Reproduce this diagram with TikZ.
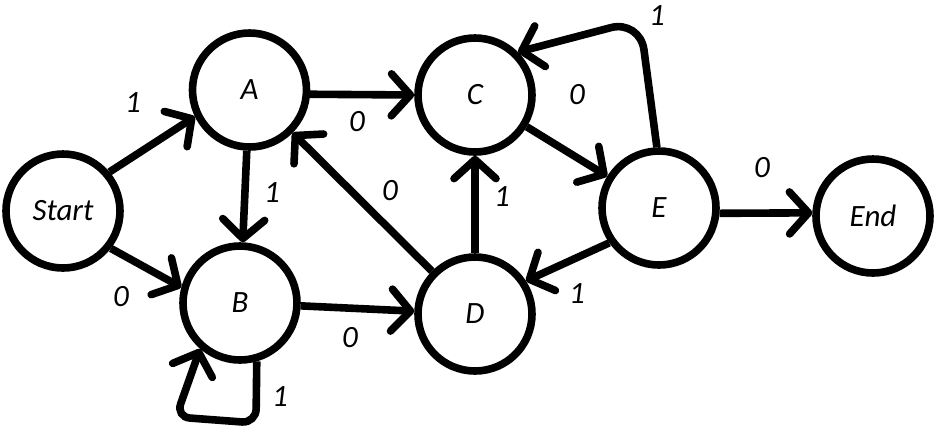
\documentclass[tikz,border=0pt]{standalone}
\usepackage{fontspec}
\setmainfont{Carlito}
\usetikzlibrary{arrows.meta}

\begin{document}
\begin{tikzpicture}[x=0.5pt, y=-0.5pt,
    state/.style={circle, draw, line width=3.8pt, minimum size=57pt, inner sep=0pt,
      font=\fontsize{15.5}{18}\selectfont\itshape},
    lbl/.style={inner sep=0pt, font=\fontsize{15.5}{18}\selectfont\itshape},
    arr/.style={line width=3.8pt, -{Straight Barb[length=9.5pt, width=21pt, round]}}]
      \useasboundingbox (0,0) rectangle (947,441);
      % Define nodes
      \node[state] (start) at (63,211)   {Start};
      \node[state] (a)     at (249.5,90) {A};
      \node[state] (b)     at (240,303)  {B};
      \node[state] (c)     at (475,95)   {C};
      \node[state] (d)     at (475,314)  {D};
      \node[state] (e)     at (659,208)  {E};
      \node[state] (end)   at (873,216)  {End};
      % Connect nodes
      \draw[arr] (start.40) -- (a.206);
      \draw[arr] (start.-38) -- (b.165);
      \draw[arr] (a) -- (b);
      \draw[arr] (a.-4) -- (c.180);
      \draw[arr] (d) -- (a);
      \draw[arr] (b) -- (d);
      \draw[arr] (d) -- (c);
      \draw[arr] (c) -- (e);
      \draw[arr] (e.215) -- (d.33);
      \draw[arr] (e.-5) -- (end.177);
      \draw[arr, rounded corners=15pt] (e.92) -- (640,20) -- (c.45);
      \draw[arr, rounded corners=7pt] (b.-74) -- (256,423) -- (176,417) -- (b.-131);
      % Edge labels
      \node[lbl] (l1)  at (133,103) {1};
      \node[lbl] (l2)  at (121,297) {0};
      \node[lbl] (l3)  at (272,193) {1};
      \node[lbl] (l4)  at (357,122) {0};
      \node[lbl] (l5)  at (390,191) {0};
      \node[lbl] (l6)  at (350,338) {0};
      \node[lbl] (l7)  at (502,197) {1};
      \node[lbl] (l8)  at (577,95)  {0};
      \node[lbl] (l9)  at (657,16)  {1};
      \node[lbl] (l10) at (577,294) {1};
      \node[lbl] (l11) at (762,168) {0};
      \node[lbl] (l12) at (280,397) {1};
    \end{tikzpicture}
\end{document}
